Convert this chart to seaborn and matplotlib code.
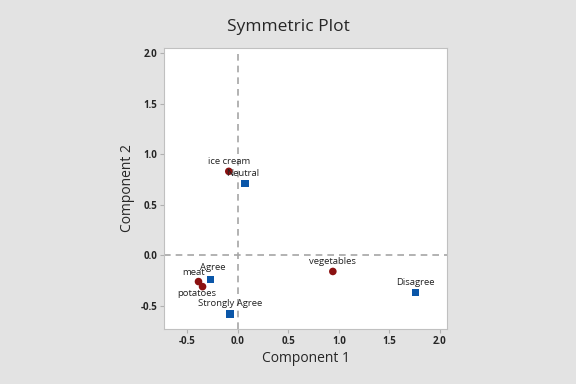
import pandas as pd
import seaborn as sns
import matplotlib.pyplot as plt

# row points (foods) and column points (opinions)
row_labels = ["ice cream", "meat", "potatoes", "vegetables"]
row_x = [-0.09, -0.39, -0.35, 0.94]
row_y = [0.83, -0.26, -0.31, -0.16]

col_labels = ["Neutral", "Agree", "Strongly Agree", "Disagree"]
col_x = [0.07, -0.27, -0.08, 1.76]
col_y = [0.71, -0.24, -0.58, -0.37]

df = pd.DataFrame({
    "label": row_labels + col_labels,
    "Component 1": row_x + col_x,
    "Component 2": row_y + col_y,
    "kind": ["row"] * len(row_labels) + ["col"] * len(col_labels),
})

# label nudges in points (dx, dy)
nudge = {
    "ice cream": (0, 4), "meat": (-3.5, 3.5), "potatoes": (-4.5, -2),
    "vegetables": (0, 4), "Neutral": (-1.5, 4), "Agree": (1.5, 5.5),
    "Strongly Agree": (0, 4), "Disagree": (0, 4),
}

sns.set_style("white")
plt.rcParams["font.family"] = ["Open Sans", "DejaVu Sans"]

fig = plt.figure(figsize=(5.76, 3.84), dpi=100, facecolor="#e3e3e3")
ax = fig.add_axes([0.285, 0.143, 0.491, 0.732])
ax.set_facecolor("white")

ax.axhline(0, color="#a6a6a6", ls=(0, (4, 3)), lw=1.2, zorder=1)
ax.axvline(0, color="#a6a6a6", ls=(0, (4, 3)), lw=1.2, zorder=1)

sns.scatterplot(
    data=df, x="Component 1", y="Component 2", hue="kind", style="kind",
    palette={"row": "#8b1111", "col": "#0a56a8"},
    markers={"row": "o", "col": "s"},
    s=30, edgecolor="none", legend=False, ax=ax, zorder=3,
)

for _, r in df.iterrows():
    dx, dy = nudge[r["label"]]
    va = "top" if r["label"] == "potatoes" else "bottom"
    ax.annotate(r["label"], (r["Component 1"], r["Component 2"]),
                xytext=(dx, dy), textcoords="offset points",
                ha="center", va=va, fontsize=6.8, color="#222222")

ax.set_xlim(-0.73, 2.07)
ax.set_ylim(-0.73, 2.05)
ax.set_xticks([-0.5, 0.0, 0.5, 1.0, 1.5, 2.0])
ax.set_yticks([-0.5, 0.0, 0.5, 1.0, 1.5, 2.0])
ax.set_xticklabels(["-0.5", "0.0", "0.5", "1.0", "1.5", "2.0"], fontsize=7, fontweight="bold")
ax.set_yticklabels(["-0.5", "0.0", "0.5", "1.0", "1.5", "2.0"], fontsize=7, fontweight="bold")
ax.tick_params(length=3, color="#b0b0b0", direction="out", bottom=True, left=True, pad=2)
for sp in ax.spines.values():
    sp.set_color("#c0c0c0")

ax.set_xlabel("Component 1", fontsize=10, labelpad=3)
ax.set_ylabel("Component 2", fontsize=10, labelpad=4)
fig.text(0.5, 0.93, "Symmetric Plot", ha="center", va="center", fontsize=12.5)

fig.savefig("out.png", dpi=100, facecolor=fig.get_facecolor())
